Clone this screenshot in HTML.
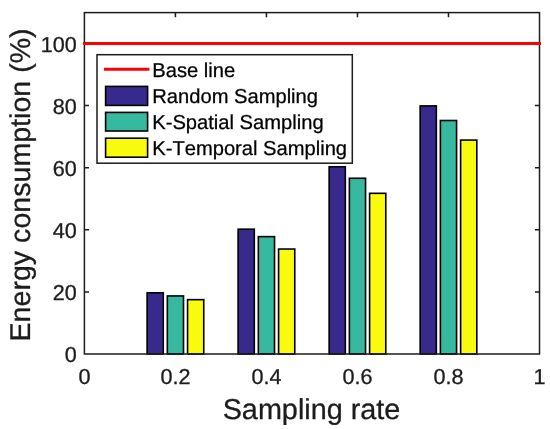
<!DOCTYPE html>
<html lang="en"><head><meta charset="utf-8"><title>Energy consumption vs sampling rate</title>
<style>html,body{margin:0;padding:0;background:#fff;overflow:hidden}text{font-kerning:none;text-rendering:geometricPrecision;stroke:#1c1c1c;stroke-width:0.3px;paint-order:stroke}body{width:550px;height:429px}</style></head>
<body>
<svg width="550" height="429" viewBox="0 0 550 429" style="display:block">
<rect x="0" y="0" width="550" height="429" fill="#ffffff"/>
<path d="M175.42 354.0v-4.6M175.42 12.6v4.6" stroke="#1c1c1c" stroke-width="1.5" fill="none"/>
<path d="M266.44 354.0v-4.6M266.44 12.6v4.6" stroke="#1c1c1c" stroke-width="1.5" fill="none"/>
<path d="M357.46 354.0v-4.6M357.46 12.6v4.6" stroke="#1c1c1c" stroke-width="1.5" fill="none"/>
<path d="M448.48 354.0v-4.6M448.48 12.6v4.6" stroke="#1c1c1c" stroke-width="1.5" fill="none"/>
<path d="M84.4 291.90h4.6M539.5 291.90h-4.6" stroke="#1c1c1c" stroke-width="1.5" fill="none"/>
<path d="M84.4 229.80h4.6M539.5 229.80h-4.6" stroke="#1c1c1c" stroke-width="1.5" fill="none"/>
<path d="M84.4 167.70h4.6M539.5 167.70h-4.6" stroke="#1c1c1c" stroke-width="1.5" fill="none"/>
<path d="M84.4 105.60h4.6M539.5 105.60h-4.6" stroke="#1c1c1c" stroke-width="1.5" fill="none"/>
<path d="M84.4 43.50h4.6M539.5 43.50h-4.6" stroke="#1c1c1c" stroke-width="1.5" fill="none"/>
<rect x="147.10" y="292.83" width="16.18" height="61.17" fill="#382A8C" stroke="#000" stroke-width="1.6"/>
<rect x="167.33" y="295.94" width="16.18" height="58.06" fill="#36B99E" stroke="#000" stroke-width="1.6"/>
<rect x="187.56" y="299.66" width="16.18" height="54.34" fill="#F9FB0E" stroke="#000" stroke-width="1.6"/>
<rect x="238.12" y="229.18" width="16.18" height="124.82" fill="#382A8C" stroke="#000" stroke-width="1.6"/>
<rect x="258.35" y="236.63" width="16.18" height="117.37" fill="#36B99E" stroke="#000" stroke-width="1.6"/>
<rect x="278.58" y="249.05" width="16.18" height="104.95" fill="#F9FB0E" stroke="#000" stroke-width="1.6"/>
<rect x="329.14" y="166.77" width="16.18" height="187.23" fill="#382A8C" stroke="#000" stroke-width="1.6"/>
<rect x="349.37" y="178.26" width="16.18" height="175.74" fill="#36B99E" stroke="#000" stroke-width="1.6"/>
<rect x="369.60" y="193.32" width="16.18" height="160.68" fill="#F9FB0E" stroke="#000" stroke-width="1.6"/>
<rect x="420.16" y="105.91" width="16.18" height="248.09" fill="#382A8C" stroke="#000" stroke-width="1.6"/>
<rect x="440.39" y="120.50" width="16.18" height="233.50" fill="#36B99E" stroke="#000" stroke-width="1.6"/>
<rect x="460.62" y="140.07" width="16.18" height="213.93" fill="#F9FB0E" stroke="#000" stroke-width="1.6"/>
<rect x="84.4" y="12.6" width="455.10" height="341.40" fill="none" stroke="#1c1c1c" stroke-width="1.5"/>
<line x1="82.9" y1="43.5" x2="541.0" y2="43.5" stroke="#FF0000" stroke-width="3"/>
<g font-family="'Liberation Sans', Arial, Helvetica, sans-serif" font-size="21.6" fill="#1c1c1c">
<text x="76.8" y="362.30" text-anchor="end">0</text>
<text x="76.8" y="300.20" text-anchor="end">20</text>
<text x="76.8" y="238.10" text-anchor="end">40</text>
<text x="76.8" y="176.00" text-anchor="end">60</text>
<text x="76.8" y="113.90" text-anchor="end">80</text>
<text x="76.8" y="51.80" text-anchor="end">100</text>
<text x="84.40" y="384" text-anchor="middle">0</text>
<text x="175.42" y="384" text-anchor="middle">0.2</text>
<text x="266.44" y="384" text-anchor="middle">0.4</text>
<text x="357.46" y="384" text-anchor="middle">0.6</text>
<text x="448.48" y="384" text-anchor="middle">0.8</text>
<text x="539.50" y="384" text-anchor="middle">1</text>
</g>
<g font-family="'Liberation Sans', Arial, Helvetica, sans-serif" font-size="28.8" fill="#1c1c1c">
<text x="311.5" y="419.3" text-anchor="middle">Sampling rate</text>
<text transform="translate(30.3 184.9) rotate(-90)" text-anchor="middle" font-size="28.6">Energy consumption (%)</text>
</g>
<rect x="97" y="54.7" width="255.30" height="108.50" fill="#fff" stroke="#1c1c1c" stroke-width="1.5"/>
<line x1="104" y1="69.3" x2="149.4" y2="69.3" stroke="#FF0000" stroke-width="3"/>
<rect x="105.6" y="86.40" width="42.00" height="19.00" fill="#382A8C" stroke="#000" stroke-width="1.6"/>
<rect x="105.6" y="112.40" width="42.00" height="18.60" fill="#36B99E" stroke="#000" stroke-width="1.6"/>
<rect x="105.6" y="138.20" width="42.00" height="19.00" fill="#F9FB0E" stroke="#000" stroke-width="1.6"/>
<g font-family="'Liberation Sans', Arial, Helvetica, sans-serif" font-size="20.15" fill="#000">
<text x="152.3" y="76.6">Base line</text>
<text x="152.3" y="102.9">Random Sampling</text>
<text x="152.3" y="128.6">K-Spatial Sampling</text>
<text x="152.3" y="155">K-Temporal Sampling</text>
</g>
</svg>
</body></html>
